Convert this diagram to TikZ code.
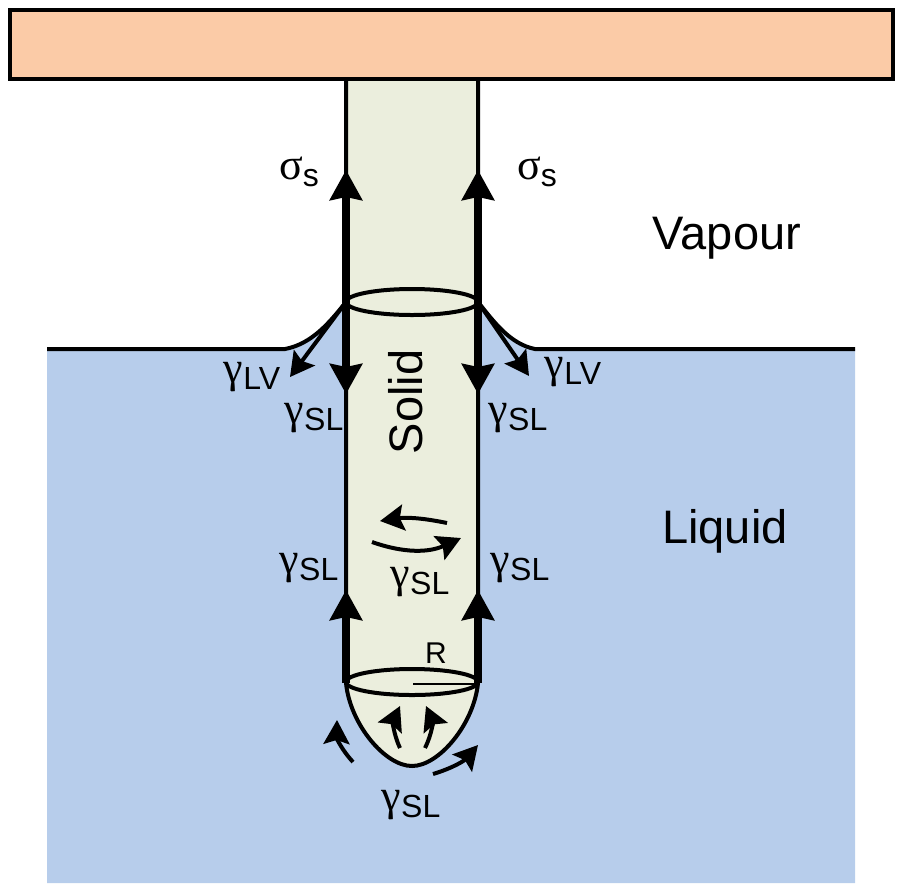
\documentclass[tikz,border=0pt]{standalone}
\usepackage{fontspec}
\setmainfont{Liberation Sans}
\newfontfamily\symfont{Liberation Serif}
\usetikzlibrary{positioning, arrows.meta}
\definecolor{plate}{HTML}{FBCBA7}
\definecolor{liquid}{HTML}{B7CDEB}
\definecolor{solid}{HTML}{EBEEDD}
\newcommand{\lbl}[2]{{\fontsize{44}{46}\symfont #1\raisebox{-7pt}{\fontsize{32}{34}\selectfont\normalfont #2}}}
\newcommand{\GSL}{\lbl{γ}{SL}}
\newcommand{\GLV}{\lbl{γ}{LV}}
\newcommand{\SIGS}{\lbl{σ}{s}}
\tikzset{
    bigtext/.style={font=\fontsize{47}{50}\selectfont, inner sep=0pt},
    force/.style={inner sep=0pt},
    wall/.style={line width=4pt},
    bigarrow/.style={-{Stealth[length=30pt,width=32pt,inset=3pt]}, line width=8pt},
    smallarrow/.style={-{Stealth[length=24pt,width=26pt,inset=4pt]}, line width=4pt},
}
\begin{document}
\begin{tikzpicture}[x=1pt,y=-1pt]
    \useasboundingbox (0,0) rectangle (904,892);
    % liquid and meniscus
    \fill[liquid] (47,349) -- (285,349) .. controls (312,344) and (330,322) .. (346,302)
        -- (478,302) .. controls (494,322) and (510,344) .. (535,349) -- (855,349)
        -- (855,883) -- (47,883) -- cycle;
    \draw[wall] (47,349) -- (285,349) .. controls (312,344) and (330,322) .. (346,302);
    \draw[wall] (478,302) .. controls (494,322) and (510,344) .. (535,349) -- (855,349);
    % solid
    \filldraw[wall, fill=solid] (346,79) -- (346,683)
        .. controls (350,724) and (385,766) .. (412,766)
        .. controls (439,766) and (474,724) .. (478,683) -- (478,79);
    \filldraw[wall, fill=plate] (10,10) rectangle (893,79);
    \draw[wall] (412,302) ellipse [x radius=66, y radius=13];
    \draw[wall] (412,682) ellipse [x radius=66, y radius=13];
    \coordinate (r0) at (413,684);
    \coordinate (r1) at (475,684);
    \draw[line width=2.5pt] (r0) -- (r1);
    % big arrows
    \coordinate (lt) at (346,302);
    \coordinate (rt) at (478,302);
    \coordinate (lb) at (346,683);
    \coordinate (rb) at (478,683);
    \path[bigarrow]
    (lt) edge (346,170)
         edge (346,394)
    (rt) edge (478,170)
         edge (478,394)
    (lb) edge (346,590)
    (rb) edge (478,590);
    % small arrows
    \path[smallarrow]
    (lt) edge (290,377)
    (rt) edge (529,376)
    (447,523) edge [bend right=10] (380,521)
    (372,542) edge [bend right=22] (461,538)
    (353,762) edge [bend left=22] (337,720)
    (433,774) edge [bend right=16] (478,745)
    (400,748) edge [bend left=25] (400,706)
    (425,748) edge [bend right=25] (426,706);
    % labels
    \node[bigtext] (vapour) at (727,238) {Vapour};
    \node[bigtext] (liquidlbl) at (725,531) {Liquid};
    \node[bigtext, rotate=90] (solidlbl) at (406,402) {Solid};
    \node[force, font=\fontsize{30}{32}\selectfont] (rlbl) at (436,653) {R};
    \node[force] (s1) at (299,172) {\SIGS};
    \node[force] (s2) at (537,172) {\SIGS};
    \node[force] (lv1) at (252,377) {\GLV};
    \node[force] (lv2) at (573,372) {\GLV};
    \node[force] (sl1) at (314,418) {\GSL};
    \node[force] (sl2) at (518,418) {\GSL};
    \node[force] (sl3) at (309,568) {\GSL};
    \node[force] (sl4) at (520,568) {\GSL};
    \node[force] (sl5) at (420,582) {\GSL};
    \node[force] (sl6) at (411,805) {\GSL};
\end{tikzpicture}
\end{document}
